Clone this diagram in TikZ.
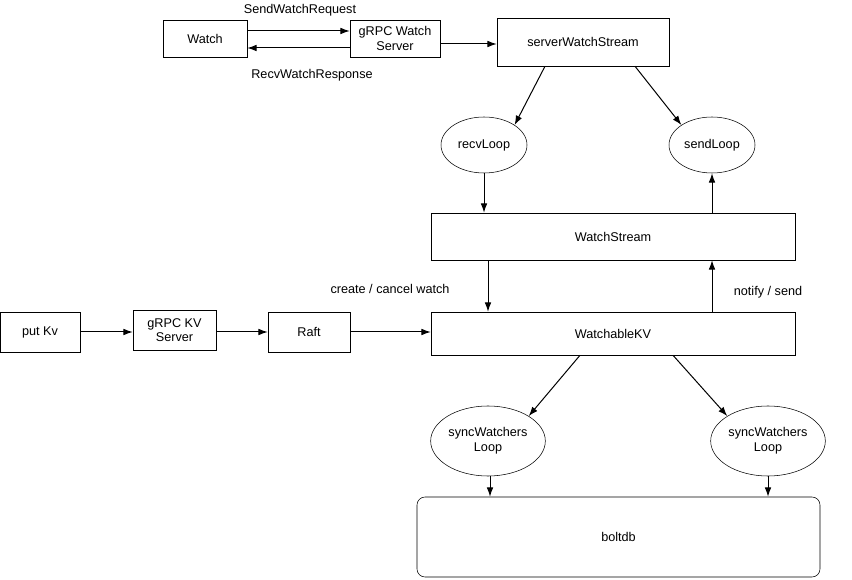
\documentclass[tikz,border=0pt]{standalone}
\usepackage{fontspec}
\setmainfont{Liberation Sans}
\usetikzlibrary{shapes.geometric,arrows.meta}
\tikzset{
  box/.style={draw, inner sep=0.75pt, align=center, font=\fontsize{9.5}{11}\selectfont},
  loop/.style={draw, ellipse, inner sep=0.75pt, align=center, font=\fontsize{9.5}{11}\selectfont},
  lbl/.style={inner sep=0.75pt, font=\fontsize{9.5}{11}\selectfont},
  conn/.style={-{Latex[length=7pt,width=5pt]}, line width=0.75}
}
\begin{document}
\begin{tikzpicture}[x=0.75pt,y=0.75pt,yscale=-1,xscale=1]
\useasboundingbox (0,0) rectangle (852,580);

%Shape: Rectangles
\node [box, minimum width=84*0.75pt, minimum height=37*0.75pt] (watch) at (205,38.5) {Watch};
\node [box, minimum width=90*0.75pt, minimum height=37*0.75pt] (gws) at (395,38.5) {gRPC Watch\\Server};
\node [box, minimum width=172*0.75pt, minimum height=48*0.75pt] (sws) at (583,42) {serverWatchStream};
\node [box, minimum width=364*0.75pt, minimum height=47*0.75pt] (wstream) at (613,236.5) {WatchStream};
\node [box, minimum width=364*0.75pt, minimum height=43*0.75pt] (wkv) at (613,333.5) {WatchableKV};
\node [box, minimum width=80*0.75pt, minimum height=40*0.75pt] (putkv) at (40,332) {put Kv};
\node [box, minimum width=83*0.75pt, minimum height=40*0.75pt] (gkv) at (174.5,330) {gRPC KV\\Server};
\node [box, minimum width=82*0.75pt, minimum height=40*0.75pt] (raft) at (309,332) {Raft};
\node [box, rounded corners=6pt, minimum width=403*0.75pt, minimum height=80*0.75pt] (boltdb) at (618.5,537) {boltdb};

%Shape: Ellipses
\node [loop, minimum width=86*0.75pt, minimum height=56*0.75pt] (recv) at (484,145) {recvLoop};
\node [loop, minimum width=86*0.75pt, minimum height=56*0.75pt] (send) at (712,145) {sendLoop};
\node [loop, minimum width=90*0.75pt, minimum height=70*0.75pt] (sync1) at (488,441) {syncWatchers\\Loop};
\node [loop, minimum width=90*0.75pt, minimum height=70*0.75pt] (sync2) at (768,441) {syncWatchers\\Loop};

% Text Node
\node [lbl] (req) at (300,10) {SendWatchRequest};
\node [lbl] (resp) at (312,75) {RecvWatchResponse};
\node [lbl] (create) at (390,289) {create / cancel watch};
\node [lbl] (notify) at (768,292) {notify / send};

% Connection
\draw [conn] (watch.east |- 0,31) -- (gws.west |- 0,31);
\draw [conn] (gws.west |- 0,48) -- (watch.east |- 0,48);
\draw [conn] (gws.east |- 0,44) -- (sws.west |- 0,44);
\draw [conn] (sws.south -| 545,0) -- (recv.north east);
\draw [conn] (sws.south -| 635,0) -- (send.north west);
\draw [conn] (recv.south) -- (wstream.north -| recv.south);
\draw [conn] (wstream.north -| send.south) -- (send.south);
\draw [conn] (wstream.south -| 488,0) -- (wkv.north -| 488,0);
\draw [conn] (wkv.north -| 712,0) -- (wstream.south -| 712,0);
\draw [conn] (putkv) -- (gkv.west |- putkv);
\draw [conn] (gkv.east |- raft) -- (raft);
\draw [conn] (raft) -- (wkv.west |- raft);
\draw [conn] (wkv.south -| 580,0) -- (sync1.north east);
\draw [conn] (wkv.south -| 673,0) -- (sync2.north west);
\draw [conn] (sync1.south -| 490,0) -- (boltdb.north -| 490,0);
\draw [conn] (sync2.south) -- (boltdb.north -| sync2.south);

\end{tikzpicture}
\end{document}
